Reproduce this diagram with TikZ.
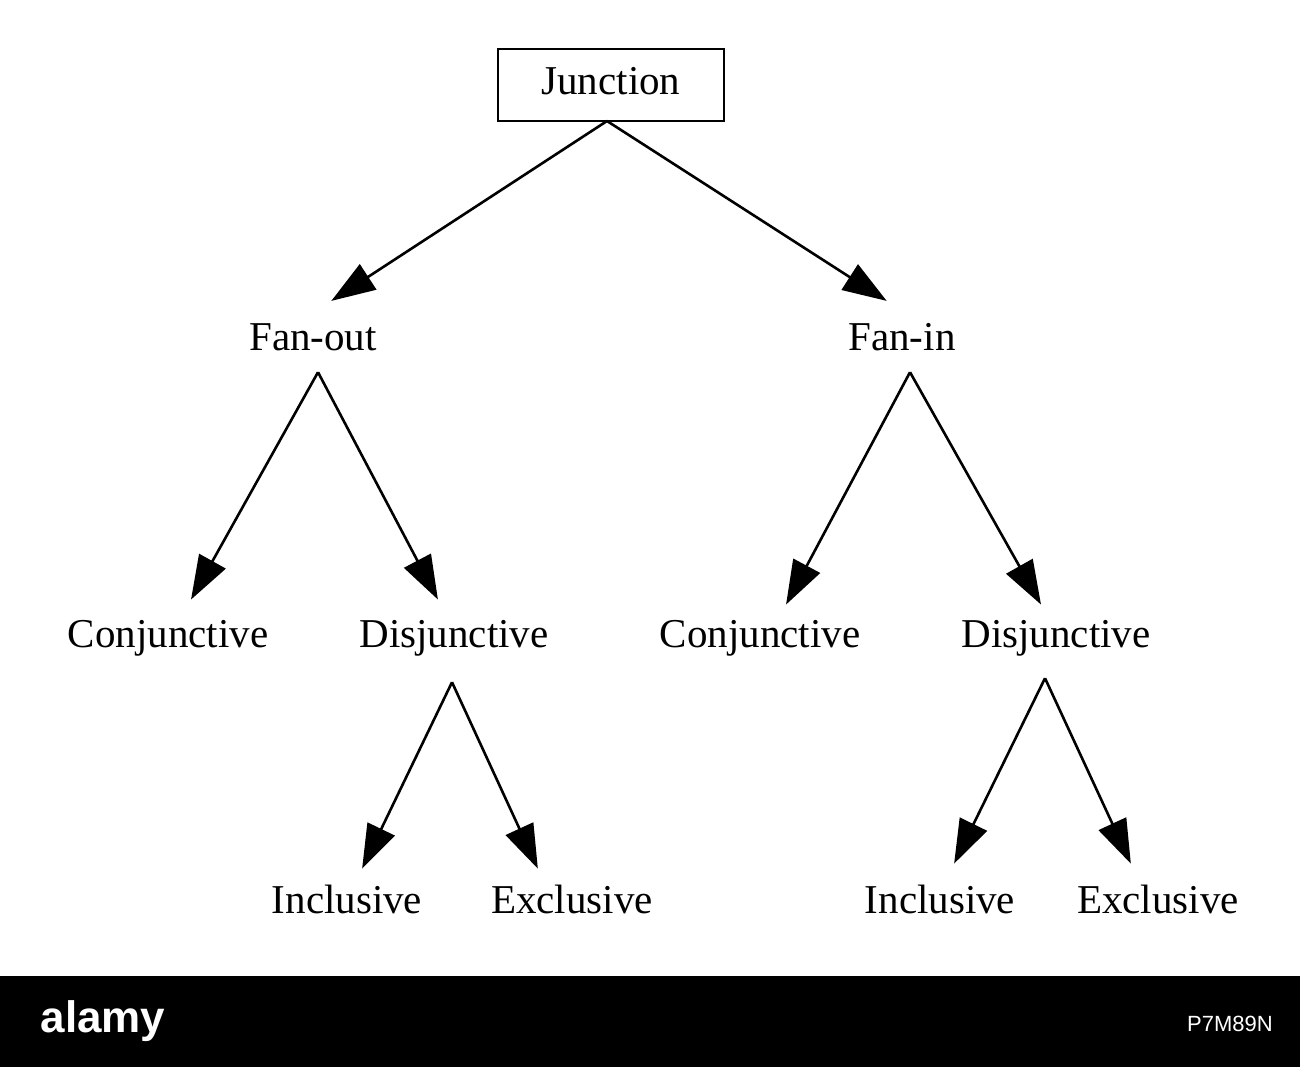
\documentclass[tikz,border=0pt]{standalone}
\usepackage{fontspec}
\setmainfont{Liberation Serif}
\setsansfont{Liberation Sans}
\usetikzlibrary{arrows.meta}
\begin{document}
\begin{tikzpicture}[x=1pt,y=-1pt,
  lbl/.style={font=\fontsize{41}{44}\selectfont, inner sep=0pt, text height=29pt, text depth=9pt, minimum height=60pt},
  arr/.style={line width=2.6pt, -{Triangle[length=44pt,width=30pt]}, shorten >=-2pt}]
\useasboundingbox (0,0) rectangle (1300,1067);
\fill[white] (0,0) rectangle (1300,976);
\fill[black] (0,976) rectangle (1300,1067);
\node[lbl, draw, line width=2.2pt, minimum width=226pt, minimum height=72pt] (j) at (611,85) {Junction};
\node[lbl] (fo) at (313,340) {Fan-out};
\node[lbl] (fi) at (902,340) {Fan-in};
\node[lbl] (cl) at (168,637) {Conjunctive};
\node[lbl] (dl) at (454,637) {Disjunctive};
\node[lbl] (cr) at (760,637) {Conjunctive};
\node[lbl] (dr) at (1056,637) {Disjunctive};
\node[lbl] (il) at (347,903) {Inclusive};
\node[lbl] (el) at (572,903) {Exclusive};
\node[lbl] (ir) at (940,903) {Inclusive};
\node[lbl] (er) at (1158,903) {Exclusive};
\coordinate (jb) at (607,121);
\draw[arr] (jb) -- ([shift={(20,-10)}]fo.north);
\draw[arr] (jb) -- ([shift={(-17,-10)}]fi.north);
\draw[arr] ([shift={(5,2)}]fo.south) -- ([shift={(24,-9)}]cl.north);
\draw[arr] ([shift={(5,2)}]fo.south) -- ([shift={(-17,-9)}]dl.north);
\draw[arr] ([shift={(8,2)}]fi.south) -- ([shift={(27,-4)}]cr.north);
\draw[arr] ([shift={(8,2)}]fi.south) -- ([shift={(-16,-4)}]dr.north);
\draw[arr] ([shift={(-2,15)}]dl.south) -- ([shift={(16,-6)}]il.north);
\draw[arr] ([shift={(-2,15)}]dl.south) -- ([shift={(-35,-6)}]el.north);
\draw[arr] ([shift={(-11,11)}]dr.south) -- ([shift={(15,-11)}]ir.north);
\draw[arr] ([shift={(-11,11)}]dr.south) -- ([shift={(-28,-11)}]er.north);
\node[white, font=\sffamily\bfseries\fontsize{44}{46}\selectfont, inner sep=0pt] (logo) at (103,1021) {alamy};
\node[white, font=\sffamily\fontsize{22}{24}\selectfont, inner sep=0pt] (code) at (1230,1024) {P7M89N};
\end{tikzpicture}
\end{document}
